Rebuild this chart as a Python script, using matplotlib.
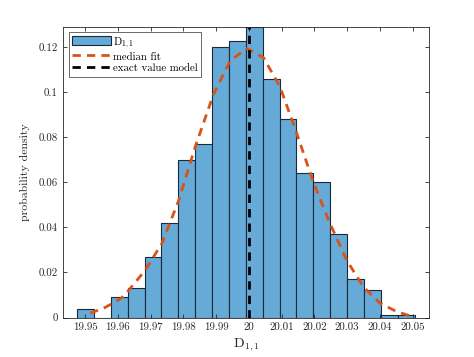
import matplotlib.pyplot as plt
import numpy as np

# histogram (probability per bin), 20 bins
bin_start = 19.9476
bin_width = 0.00515
heights = [0.004, 0.0, 0.009, 0.013, 0.027, 0.042, 0.070, 0.077, 0.120, 0.123,
           0.129, 0.106, 0.088, 0.064, 0.060, 0.037, 0.017, 0.012, 0.001, 0.001]

# median fit curve
fit_x = [19.9516, 19.9562, 19.9610, 19.9634, 19.9684, 19.9735, 19.9786, 19.9836,
         19.9892, 19.9943, 19.9994, 20.0045, 20.0096, 20.0147, 20.0197, 20.0248,
         20.0299, 20.0350, 20.0401, 20.0452, 20.0500]
fit_y = [0.0019, 0.0045, 0.0085, 0.0122, 0.0210, 0.0330, 0.0520, 0.0756,
         0.0990, 0.1140, 0.1195, 0.1154, 0.1022, 0.0815, 0.0601, 0.0417,
         0.0254, 0.0136, 0.0063, 0.0026, 0.0004]

exact_value = 20.0
xticks = [19.95, 19.96, 19.97, 19.98, 19.99, 20.0, 20.01, 20.02, 20.03, 20.04, 20.05]
xtick_labels = ['19.95', '19.96', '19.97', '19.98', '19.99', '20',
                '20.01', '20.02', '20.03', '20.04', '20.05']
yticks = [0, 0.02, 0.04, 0.06, 0.08, 0.1, 0.12]
ytick_labels = ['0', '0.02', '0.04', '0.06', '0.08', '0.1', '0.12']

plt.rcParams['font.family'] = 'serif'
plt.rcParams['font.serif'] = ['cmr10', 'DejaVu Serif']
plt.rcParams['mathtext.fontset'] = 'cm'
plt.rcParams['axes.unicode_minus'] = False

fig = plt.figure(figsize=(4.74, 3.57), dpi=100)
ax = fig.add_axes([0.1323, 0.1106, 0.7734, 0.8138])

edges = bin_start + bin_width * np.arange(len(heights))
bars = ax.bar(edges, heights, width=bin_width, align='edge', color='#66aad7',
              edgecolor='#1a2a3a', linewidth=0.8, label=r'$\mathrm{D}_{1,1}$')
fit_line, = ax.plot(fit_x, fit_y, color='#d95319', linestyle=(0, (3, 2.2)),
                    linewidth=2.0, label='median fit')
exact_line = ax.axvline(exact_value, color='black', linestyle=(0, (3, 2.2)),
                        linewidth=2.0, label='exact value model')

ax.set_xlim(19.9432, 20.0551)
ax.set_ylim(0, 0.129)
ax.set_xticks(xticks)
ax.set_xticklabels(xtick_labels)
ax.set_yticks(yticks)
ax.set_yticklabels(ytick_labels)
ax.tick_params(direction='in', top=True, right=True, length=3, width=0.6,
               colors='#262626', labelsize=7.8, labelcolor='#262626')
for s in ax.spines.values():
    s.set_color('#262626')
    s.set_linewidth(0.6)

ax.set_xlabel(r'$\mathrm{D}_{1,1}$', fontsize=10, color='#262626', labelpad=3)
ax.set_ylabel('probability density', fontsize=8.5, color='#262626', labelpad=6)

leg = ax.legend([bars, fit_line, exact_line],
                [r'$\mathrm{D}_{1,1}$', 'median fit', 'exact value model'],
                loc='upper left', bbox_to_anchor=(0.01, 0.99), fontsize=7.8,
                frameon=True, fancybox=False, edgecolor='#262626',
                handlelength=3.6, handleheight=0.9, handletextpad=0.2,
                borderpad=0.3, labelspacing=0.15, borderaxespad=0.2)
leg.get_frame().set_linewidth(0.6)

fig.savefig('out.png', dpi=100)
